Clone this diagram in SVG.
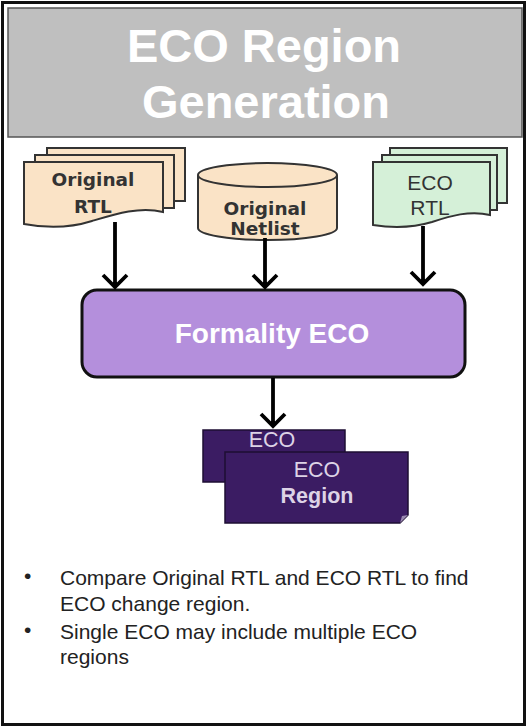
<svg xmlns="http://www.w3.org/2000/svg" width="528" height="728" viewBox="0 0 528 728">
<defs>
<style>
.doc{stroke:#333;stroke-width:2}
.peach{fill:#fae3c6}
.green{fill:#d5f0d8}
.lbl{font-family:"DejaVu Sans",sans-serif;font-weight:bold;font-size:18.5px;fill:#333;text-anchor:middle}
.lblr{font-family:"Liberation Sans",Arial,sans-serif;font-size:21px;fill:#333;text-anchor:middle}
.conn{stroke:#000;stroke-width:3.8;fill:none;stroke-linecap:butt;stroke-linejoin:miter}
.bul{font-family:"Liberation Sans",Arial,sans-serif;font-size:21px;fill:#222}
.reg{fill:#3b1c63;stroke:#1e0e33;stroke-width:1.5}
.regt{font-family:"Liberation Sans",Arial,sans-serif;font-size:21.5px;fill:#ddd3e6;text-anchor:middle}
</style>
</defs>
<rect x="0" y="0" width="528" height="728" fill="#fff"/>
<rect x="2.5" y="2.5" width="522" height="722" fill="#fff" stroke="#111" stroke-width="3"/>

<g id="title">
<rect x="8" y="8" width="514" height="129" fill="#bfbfbf" stroke="#555" stroke-width="1.5"/>
<text x="264" y="62" text-anchor="middle" font-family="Liberation Sans, Arial, sans-serif" font-weight="bold" font-size="47" fill="#fff">ECO Region</text>
<text x="266" y="118" text-anchor="middle" font-family="Liberation Sans, Arial, sans-serif" font-weight="bold" font-size="47" fill="#fff">Generation</text>
</g>

<g id="original-rtl">
<rect class="doc peach" x="47" y="148" width="138" height="53"/>
<rect class="doc peach" x="35" y="155" width="139" height="53"/>
<path class="doc peach" d="M24,162 H163 V212 C140,206 115,214 92,221 C70,228 45,228 24,224 Z"/>
<text class="lbl" x="93" y="186">Original</text>
<text class="lbl" x="93" y="213">RTL</text>
</g>

<g id="original-netlist">
<path class="doc peach" d="M198,175 V228 A69.5,12 0 0 0 337,228 V175"/>
<ellipse class="doc peach" cx="267.5" cy="175" rx="69.5" ry="12"/>
<text class="lbl" x="265" y="215">Original</text>
<text class="lbl" x="265" y="235">Netlist</text>
</g>

<g id="eco-rtl">
<rect class="doc green" x="390" y="148" width="117" height="55"/>
<rect class="doc green" x="382" y="155" width="115" height="55"/>
<path class="doc green" d="M373,162 H490 V215 C470,210 450,216 432,222 C412,228 392,228 373,225 Z"/>
<text class="lblr" x="430" y="190">ECO</text>
<text class="lblr" x="430" y="215">RTL</text>
</g>

<g id="formality-eco">
<rect x="82" y="290" width="383" height="87" rx="15" fill="#b48fdc" stroke="#111" stroke-width="3"/>
<text x="272" y="343" text-anchor="middle" font-family="Liberation Sans, Arial, sans-serif" font-weight="bold" font-size="28" fill="#fff">Formality ECO</text>
</g>

<g id="eco-region">
<rect class="reg" x="203" y="430" width="142" height="52"/>
<text class="regt" x="272" y="447">ECO</text>
<path class="reg" d="M225,452 H408 V515 L400,523 H225 Z"/>
<path d="M400,523 L402,516 L408,515 Z" fill="#9a8ab0"/>
<text class="regt" x="317" y="477">ECO</text>
<text class="regt" x="317" y="503" font-weight="bold">Region</text>
</g>

<g id="connectors">
<path class="conn" d="M115,222 V287 M103,275 L115,287 L127,275"/>
<path class="conn" d="M265,238 V287 M253,275 L265,287 L277,275"/>
<path class="conn" d="M423,226 V284 M411,272 L423,284 L435,272"/>
<path class="conn" d="M273,378 V426 M261,414 L273,426 L285,414"/>
</g>

<g id="notes">
<text class="bul" x="24" y="583">•</text>
<text class="bul" x="60" y="585">Compare Original RTL and ECO RTL to find</text>
<text class="bul" x="60" y="611">ECO change region.</text>
<text class="bul" x="24" y="637">•</text>
<text class="bul" x="60" y="639">Single ECO may include multiple ECO</text>
<text class="bul" x="60" y="664">regions</text>
</g>
</svg>
